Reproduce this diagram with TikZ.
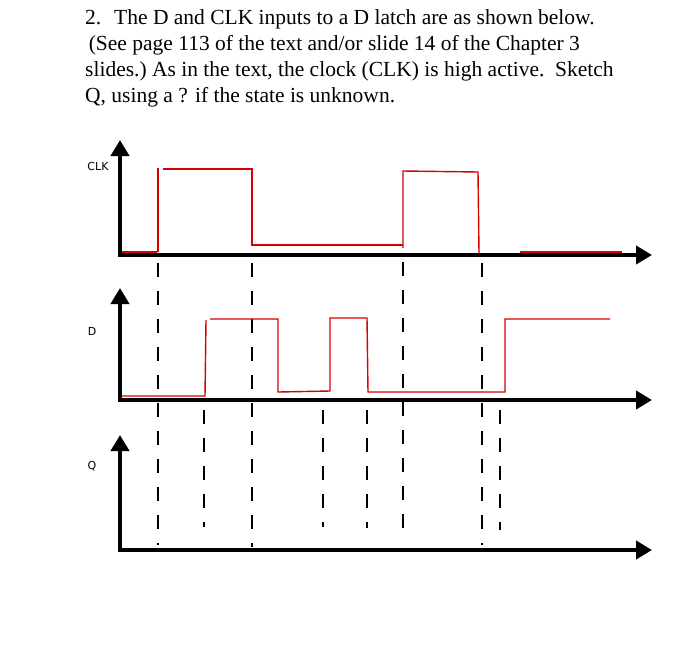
\documentclass[tikz,border=0pt]{standalone}
\usepackage{fontspec}
\setmainfont{Liberation Serif}
\newfontfamily\lbl{DejaVu Sans}
\usetikzlibrary{arrows.meta}
\begin{document}
\begin{tikzpicture}[x=1pt,y=-1pt,
  axis/.style={line width=4pt,-{Triangle[length=16pt,width=18pt]}},
  wave/.style={red!85!black,line width=1.4pt},
  guide/.style={line width=1.2pt,dash pattern=on 14pt off 14pt},
  ttl/.style={anchor=base west,inner sep=0pt,font=\fontsize{21.5}{22}\selectfont},
  sig/.style={font=\lbl\fontsize{11}{13}\selectfont,inner sep=0pt}]
\useasboundingbox (0,0) rectangle (700,645);
% title
\node[ttl] (t1) at (85,24) {2.\hspace{0.6em}The D and CLK inputs to a D latch are as shown below.};
\node[ttl] (t2) at (85,50) {\,(See page 113 of the text and/or slide 14 of the Chapter 3};
\node[ttl] (t3) at (85,76) {slides.)\ As in the text, the clock (CLK) is high active.\ \ Sketch};
\node[ttl] (t4) at (85,102) {Q, using a ? if the state is unknown.};
% labels
\node[sig] (lc) at (98,166) {CLK};
\node[sig] (ld) at (92,331) {D};
\node[sig] (lq) at (92,466) {Q};
% axes
\coordinate (c0) at (120,255); \coordinate (cy) at (120,140); \coordinate (cx) at (652,255);
\coordinate (d0) at (120,400); \coordinate (dy) at (120,288); \coordinate (dx) at (652,400);
\coordinate (q0) at (120,550); \coordinate (qy) at (120,435); \coordinate (qx) at (652,550);
\draw[axis] (c0) -- (cy); \draw[axis] ([xshift=-2pt]c0) -- (cx);
\draw[axis] (d0) -- (dy); \draw[axis] ([xshift=-2pt]d0) -- (dx);
\draw[axis] (q0) -- (qy); \draw[axis] ([xshift=-2pt]q0) -- (qx);
% guides
\foreach \x/\a/\b in {158/263/545, 252/263/547, 403/262/540, 482/263/545, 204/410/527, 323/410/527, 367/410/528, 500/410/530}
  \draw[guide] (\x,\a) -- (\x,\b);
% CLK wave
\draw[wave] (122,252) -- (157,252);
\draw[wave] (158,252) -- (158,168);
\draw[wave] (163,169) -- (252,169) -- (252,245) -- (403,245);
\draw[wave] (403,248) -- (403,171) -- (478,172) -- (479,253);
\draw[wave] (520,252) -- (622,252);
% D wave
\draw[wave] (122,396) -- (205,396) -- (206,320);
\draw[wave] (210,319) -- (278,319) -- (278,392) -- (330,391) -- (330,318) -- (367,318) -- (368,392) -- (505,392) -- (505,319) -- (610,319);
\end{tikzpicture}
\end{document}
